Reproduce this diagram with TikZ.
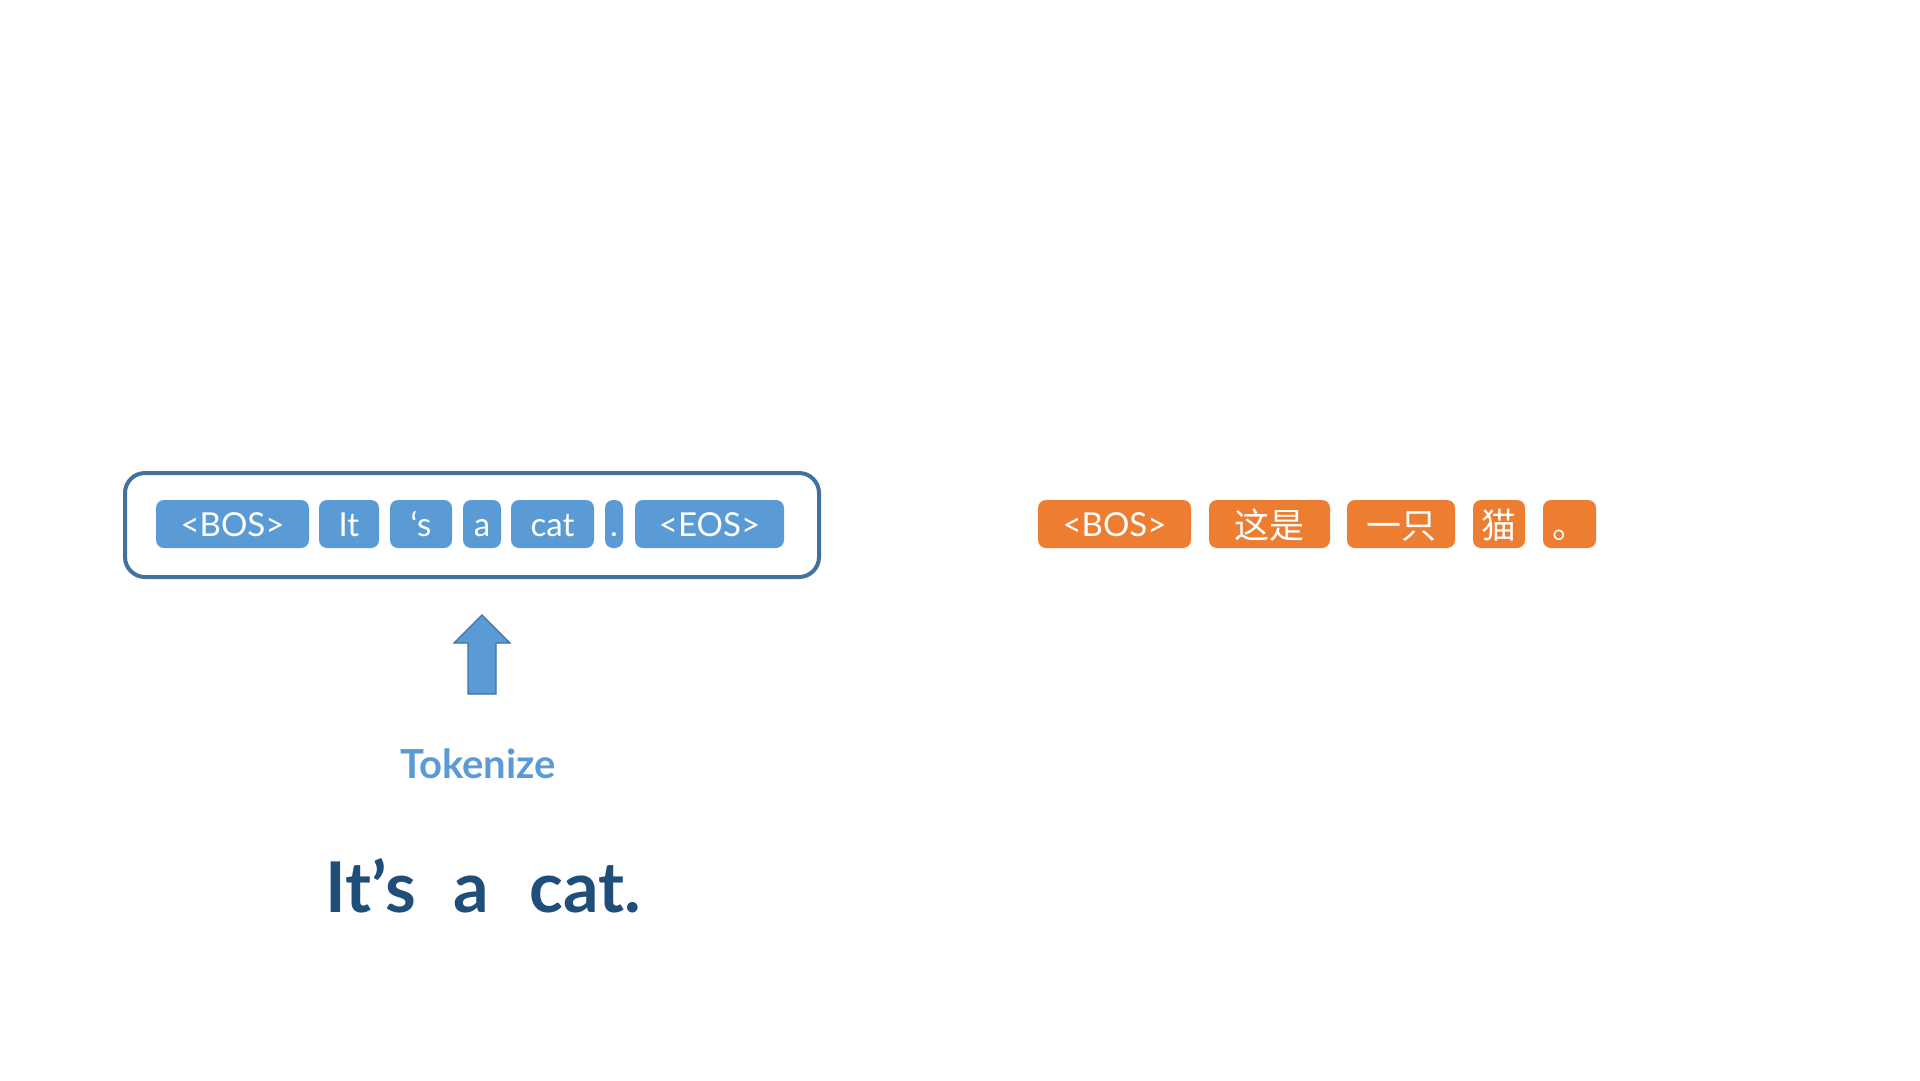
\documentclass[tikz,border=0pt]{standalone}
\usepackage{fontspec}
\setmainfont{Lato}
\newfontfamily\cjk{Noto Sans CJK SC}
\newfontfamily\lat{Lato}
\definecolor{tokblue}{HTML}{5B9BD5}
\definecolor{tokorange}{HTML}{ED7D31}
\definecolor{boxblue}{HTML}{41719C}
\definecolor{darkblue}{HTML}{1F4E79}
\tikzset{
  tok/.style={rectangle, rounded corners=8pt, inner sep=0pt, text=white,
    minimum height=48pt, text height=24pt, text depth=0pt,
    font=\lat\fontsize{33}{33}\selectfont},
  btok/.style={tok, fill=tokblue},
  otok/.style={tok, fill=tokorange},
  ctok/.style={otok, text height=28pt, text depth=0pt, font=\cjk\fontsize{35}{35}\selectfont},
  frame/.style={rectangle, rounded corners=20pt, draw=boxblue, line width=4pt,
    inner sep=0pt, minimum width=694pt, minimum height=104pt},
  blockarrow/.style={fill=tokblue, draw=boxblue, line width=1.2pt, line join=miter}
}
\begin{document}
\begin{tikzpicture}[x=1pt,y=-1pt]
\useasboundingbox[fill=white] (0,0) rectangle (1920,1080);
% frame
\node[frame] (frame) at (472,525) {};
% blue tokens
\node[btok, minimum width=153pt] (bos1) at (232.5,524) {<BOS>};
\node[btok, minimum width=60pt] (it) at (349,524) {It};
\node[btok, minimum width=62pt] (s) at (421,524) {‘s};
\node[btok, minimum width=38pt] (a) at (482,524) {a};
\node[btok, minimum width=83pt] (cat) at (552.5,524) {cat};
\node[btok, minimum width=18pt] (dot) at (614,524) {.};
\node[btok, minimum width=149pt] (eos) at (709.5,524) {<EOS>};
% orange tokens
\node[otok, minimum width=153pt] (bos2) at (1114.5,524) {<BOS>};
\node[ctok, minimum width=121pt] (zs) at (1269.5,524) {这是};
\node[ctok, minimum width=108pt] (yz) at (1401,524) {一只};
\node[ctok, minimum width=52pt] (mao) at (1499,524) {猫};
\node[ctok, minimum width=53pt] (jh) at (1569.5,524) {。};
% block arrow
\draw[blockarrow] (482,615) -- (510,643) -- (496,643) -- (496,694) -- (468,694) -- (468,643) -- (454,643) -- cycle;
% labels
\node[text=tokblue, font=\lat\bfseries\fontsize{40}{40}\selectfont, anchor=base, inner sep=0pt] (tokenize) at (478,778) {Tokenize};
\node[text=darkblue, font=\lat\bfseries\fontsize{70}{70}\selectfont, anchor=base, inner sep=0pt] (sent) at (483,912) {It’s\hspace{38pt}a\hspace{40pt}cat.};
\end{tikzpicture}
\end{document}
